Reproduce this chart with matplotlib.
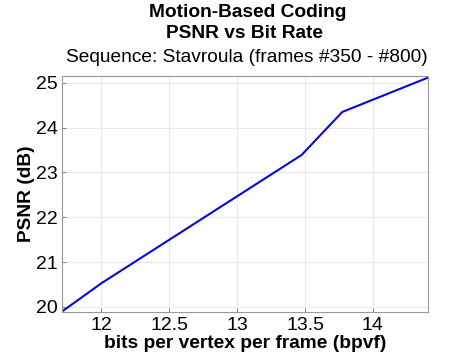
import matplotlib
matplotlib.use("Agg")
import matplotlib.pyplot as plt

plt.rcParams['font.family'] = ['Liberation Sans', 'DejaVu Sans']

bpvf = [11.71, 12.0, 13.475, 13.775, 14.41]
psnr = [19.9, 20.53, 23.39, 24.35, 25.12]

x_ticks = [12, 12.5, 13, 13.5, 14]
x_tick_labels = ['12', '12.5', '13', '13.5', '14']
y_ticks = [20, 21, 22, 23, 24, 25]


def main():
    fig = plt.figure(figsize=(4.74, 3.55), dpi=100)
    ax = fig.add_axes([0.131, 0.122, 0.773, 0.665])

    ax.plot(bpvf, psnr, color='#0808dc', linewidth=1.5)

    ax.set_xlim(11.71, 14.41)
    ax.set_ylim(19.895, 25.16)
    ax.set_xticks(x_ticks)
    ax.set_xticklabels(x_tick_labels)
    ax.set_yticks(y_ticks)
    ax.grid(True, color='#e8e8e8', linewidth=0.8)
    ax.set_axisbelow(True)
    ax.tick_params(direction='in', length=3, color='#888888', labelsize=14)
    ax.tick_params(axis='x', pad=4)
    ax.tick_params(axis='y', pad=3)
    for s in ax.spines.values():
        s.set_color('#999999')
        s.set_linewidth(0.8)

    ax.set_xlabel('bits per vertex per frame (bpvf)', fontsize=13.8, fontweight='bold', labelpad=0.5)
    ax.set_ylabel('PSNR (dB)', fontsize=13.8, fontweight='bold', labelpad=1)

    fig.text(0.522, 0.965, 'Motion-Based Coding', ha='center', va='center',
             fontsize=13.8, fontweight='bold')
    fig.text(0.516, 0.905, 'PSNR vs Bit Rate', ha='center', va='center',
             fontsize=13.8, fontweight='bold')
    fig.text(0.521, 0.838, 'Sequence: Stavroula (frames #350 - #800)', ha='center', va='center',
             fontsize=13.8)

    fig.savefig('out.png', dpi=100)


if __name__ == "__main__":
    main()
